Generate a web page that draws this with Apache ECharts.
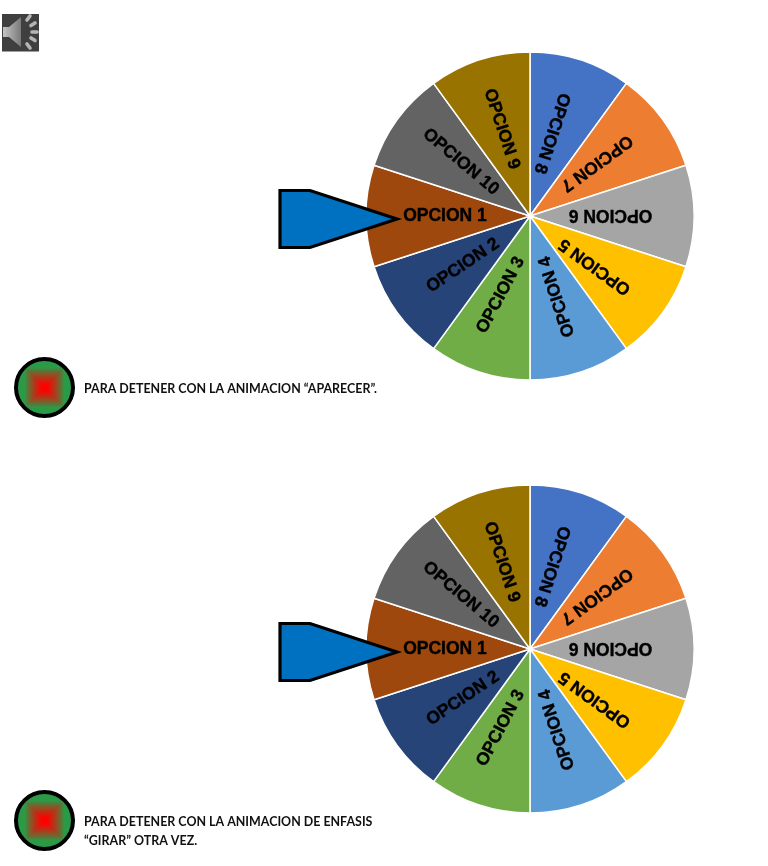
<!DOCTYPE html>
<html>
<head>
<meta charset="utf-8">
<style>
html, body { margin: 0; padding: 0; background: #fff; }
#chart { width: 768px; height: 866px; }
</style>
<script src="https://cdn.jsdelivr.net/npm/echarts@6/dist/echarts.min.js"></script>
</head>
<body>
<div id="chart"></div>
<script>
// clockwise from 12 o'clock
var categories = ['OPCION 8', 'OPCION 7', 'OPCION 6', 'OPCION 5', 'OPCION 4', 'OPCION 3', 'OPCION 2', 'OPCION 1', 'OPCION 10', 'OPCION 9'];
var values = [10, 10, 10, 10, 10, 10, 10, 10, 10, 10];
var colors = ['#4472C4', '#ED7D31', '#A5A5A5', '#FFC000', '#5B9BD5', '#70AD47', '#264478', '#9E480E', '#636363', '#997300'];
var note1 = ['PARA DETENER CON LA ANIMACION “APARECER”.'];
var note2 = ['PARA DETENER CON LA ANIMACION DE ENFASIS', '“GIRAR” OTRA VEZ.'];

// hand placed labels in the original, so small corrections per slice (screen px)
var labelNudge = [[-4.6, -1.9], [-2.1, -3], [-4.5, -1], [-3.8, 0.7], [0.7, 0], [-3, -1.8], [1.8, -0.5], [0, 0], [-0.4, -4.3], [-2, -6.2]];
var labelTurn = [0, 0, 0, 0, 0, -10, -2, 0, -4, 0];

function labelAngle(i) {
    var total = values.reduce(function (a, b) { return a + b; }, 0);
    var sum = 0;
    for (let k = 0; k < i; k++) {
        sum += values[k];
    }
    // text runs along the radius, always reading towards the centre
    var mid = 90 - (sum + values[i] / 2) / total * 360;
    return ((mid + 180 + labelTurn[i]) % 360 + 360) % 360;
}

function wheel(cy) {
    var data = [];
    for (let i = 0; i < values.length; i++) {
        data.push({
            name: categories[i],
            value: values[i],
            itemStyle: { color: colors[i] },
            label: { rotate: labelAngle(i) }
        });
    }
    return {
        type: 'pie',
        center: [530, cy],
        radius: [0, 164],
        startAngle: 90,
        clockwise: true,
        silent: true,
        data: data,
        itemStyle: { borderColor: '#fff', borderWidth: 1.5 },
        label: {
            show: true,
            position: 'inside',
            formatter: '{b}',
            color: '#000',
            fontFamily: 'Liberation Sans',
            fontWeight: 'bold',
            fontSize: 17.5,
            textBorderColor: '#000',
            textBorderWidth: 0.4
        },
        labelLayout: function (params) {
            // dx, dy act in the rotated frame of the label
            var a = labelAngle(params.dataIndex) * Math.PI / 180;
            var n = labelNudge[params.dataIndex];
            return {
                dx: n[0] * Math.cos(a) - n[1] * Math.sin(a),
                dy: n[0] * Math.sin(a) + n[1] * Math.cos(a)
            };
        },
        labelLine: { show: false }
    };
}

function arrow(dy) {
    return {
        type: 'polygon',
        z: 10,
        shape: { points: [[280, 190.5 + dy], [310, 190.5 + dy], [397, 219 + dy], [310, 247.5 + dy], [280, 247.5 + dy]] },
        style: { fill: '#0070C0', stroke: '#000', lineWidth: 3.2, lineJoin: 'miter' }
    };
}

// green disc with a square red glow in the middle
function button(cx, cy) {
    var out = [{ type: 'circle', z: 10, shape: { cx: cx, cy: cy, r: 29 }, style: { fill: '#2A9A47' } }];
    var steps = 18;
    for (let i = 0; i < steps; i++) {
        var t = Math.pow(i / (steps - 1), 0.8);
        var half = 17 * (1 - i / (steps - 1)) + 3;
        var r = Math.round(42 + (255 - 42) * t);
        var g = Math.round(154 * (1 - t));
        var b = Math.round(71 * (1 - t));
        out.push({
            type: 'rect',
            z: 11,
            shape: { x: cx - half, y: cy - half, width: half * 2, height: half * 2 },
            style: { fill: 'rgb(' + r + ',' + g + ',' + b + ')' }
        });
    }
    out.push({ type: 'circle', z: 12, shape: { cx: cx, cy: cy, r: 28.5 }, style: { fill: 'none', stroke: '#000', lineWidth: 4 } });
    return out;
}

function note(lines, x, y) {
    return lines.map(function (line, i) {
        return {
            type: 'text',
            z: 10,
            style: {
                x: x,
                y: y + i * 18.5,
                text: line,
                fill: '#111',
                font: 'bold 12.45px Lato',
                textVerticalAlign: 'middle'
            }
        };
    });
}

function speaker() {
    var out = [
        { type: 'rect', z: 10, shape: { x: 2, y: 14, width: 37, height: 37.5 }, style: { fill: '#3F3F3F' } },
        {
            type: 'polygon',
            z: 11,
            shape: { points: [[3, 27], [9, 27], [21, 17], [21, 47], [9, 37], [3, 37]] },
            style: {
                fill: {
                    type: 'linear', x: 0, y: 0, x2: 1, y2: 0,
                    colorStops: [{ offset: 0, color: '#C4C4C4' }, { offset: 1, color: '#7A7A7A' }]
                }
            }
        }
    ];
    [[27, 20, 30, 16], [31, 25.5, 35, 23], [32, 32, 37, 32], [31, 38, 35, 40.5], [27, 44, 30, 48]].forEach(function (s) {
        out.push({
            type: 'line',
            z: 11,
            shape: { x1: s[0], y1: s[1], x2: s[2], y2: s[3] },
            style: { stroke: '#B5B5B5', lineWidth: 3.6, lineCap: 'round' }
        });
    });
    return out;
}

var myChart = echarts.init(document.getElementById('chart'));
var option = {
    animation: false,
    backgroundColor: '#fff',
    series: [wheel(216), wheel(649)],
    graphic: {
        elements: [].concat(
            speaker(),
            arrow(0), arrow(433),
            button(44.5, 387.5), button(44.5, 820.5),
            note(note1, 84, 389),
            note(note2, 84, 822)
        )
    }
};
myChart.setOption(option);
</script>
</body>
</html>
